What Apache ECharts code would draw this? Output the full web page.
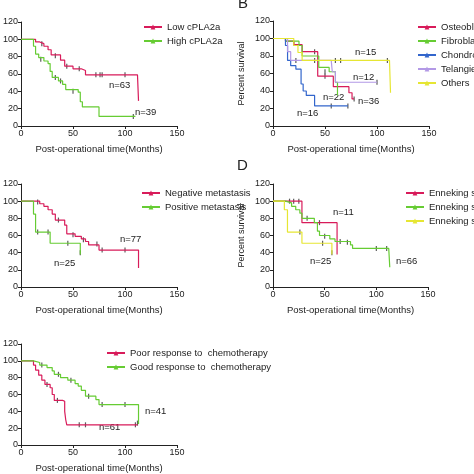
<!DOCTYPE html>
<html><head><meta charset="utf-8">
<script src="https://cdn.jsdelivr.net/npm/echarts@6/dist/echarts.min.js"></script>
<style>html,body{margin:0;background:#fff}#c{width:474px;height:474px}</style>
</head><body><div id="c"></div>
<script>
// survival curves: [time, percent] at each drop; censored marks separately
const aLow = [[0,100],[10,100],[14,97],[18,95],[22,92],[26,88],[29,82],[38,76],[42,69],[50,66],[58,64],[62,59],[112,59],[113,29]];
const aLowCens = [[20,95],[33,81],[44,69],[56,66],[72,59],[76,59],[78,59],[100,59]];
const aHigh = [[0,100],[10,100],[12,92],[14,83],[17,79],[22,75],[26,72],[28,63],[30,56],[36,52],[40,48],[43,42],[55,39],[57,28],[59,22],[75,11],[110,11]];
const aHighCens = [[19,77],[33,56],[38,52],[50,40],[108,11]];

const bOst = [[0,100],[12,97],[20,93],[28,85],[43,57],[58,45],[73,38],[76,31],[78,31]];
const bOstCens = [[40,85],[50,57],[78,31]];
const bFib = [[0,100],[12,97],[25,92],[28,80],[44,67],[54,62],[60,50],[62,35]];
const bFibCens = [[20,95],[50,62]];
const bCho = [[0,100],[12,92],[14,75],[17,69],[22,65],[27,48],[29,40],[32,35],[40,23],[72,23]];
const bChoCens = [[56,23],[72,23]];
const bTel = [[0,100],[14,85],[17,75],[56,75],[57,62],[60,50],[100,50]];
const bTelCens = [[22,75],[100,50]];
const bOth = [[0,100],[10,100],[20,92],[24,84],[28,75],[112,75],[113,38]];
const bOthCens = [[40,75],[60,75],[65,75],[110,75]];

const cNeg = [[0,100],[12,100],[18,97],[22,94],[26,90],[30,85],[33,78],[42,72],[44,62],[52,59],[58,56],[62,53],[65,49],[75,43],[113,43],[113,22]];
const cNegCens = [[16,99],[36,78],[50,61],[60,55],[73,50],[78,43],[100,43]];
const cPos = [[0,100],[10,100],[12,85],[14,64],[28,51],[57,38]];
const cPosCens = [[16,64],[26,64],[45,51],[57,40]];

const dI = [[0,100],[28,75],[62,38]];
const dICens = [[20,100],[25,100],[45,75]];
const dII = [[0,100],[12,98],[18,94],[22,90],[26,86],[28,80],[40,75],[43,65],[45,60],[55,56],[60,53],[75,49],[77,45],[112,45],[113,23]];
const dIICens = [[16,100],[33,80],[50,59],[65,53],[72,52],[100,45],[110,45]];
const dIII = [[0,100],[11,90],[14,64],[28,51],[57,38]];
const dIIICens = [[26,64],[48,51],[57,40]];

const ePoor = [[0,100],[12,95],[14,89],[17,83],[20,77],[23,72],[28,68],[30,60],[32,53],[40,52],[42,40],[43,30],[44,24],[112,24]];
const ePoorCens = [[25,72],[35,53],[56,24],[62,24],[110,24]];
const eGood = [[0,100],[12,98],[18,95],[25,92],[30,88],[32,84],[38,80],[45,77],[52,73],[55,70],[58,65],[62,58],[72,54],[75,48],[113,48],[113,25]];
const eGoodCens = [[20,95],[36,84],[48,77],[65,58],[78,48],[100,48],[112,26]];

const xTicks = [0, 50, 100, 150];
const yTicks = [0, 20, 40, 60, 80, 100, 120];

const RED = '#d81b5a', GREEN = '#66cc33', BLUE = '#3366cc', PURPLE = '#b399e6', YELLOW = '#e6e633';
const F = 'Liberation Sans, Arial, sans-serif';

const grids = [
  {left: 21, right: 297, top: 22, bottom: 348},
  {left: 273, right: 45, top: 21, bottom: 348},
  {left: 21, right: 297, top: 184, bottom: 187},
  {left: 273, right: 46, top: 184, bottom: 187},
  {left: 21, right: 297, top: 344, bottom: 26}
];
const withY = [false, true, false, true, false];

const xAxis = grids.map((g, i) => ({
  gridIndex: i, type: 'value', min: 0, max: 150, interval: 50,
  name: 'Post-operational time(Months)', nameLocation: 'middle', nameGap: 18,
  nameTextStyle: {fontSize: 9.5, color: '#222', fontFamily: F},
  axisLine: {lineStyle: {color: '#222'}}, axisTick: {length: 3, lineStyle: {color: '#222'}},
  axisLabel: {fontSize: 9, color: '#222', margin: 3, fontFamily: F}, splitLine: {show: false}
}));
const yAxis = grids.map((g, i) => ({
  gridIndex: i, type: 'value', min: 0, max: 120, interval: 20,
  name: withY[i] ? 'Percent survival' : '', nameLocation: 'middle', nameGap: 27,
  nameTextStyle: {fontSize: 9, color: '#222', fontFamily: F},
  axisLine: {show: true, lineStyle: {color: '#222'}}, axisTick: {show: true, length: 3, lineStyle: {color: '#222'}},
  axisLabel: {fontSize: 9, color: '#222', margin: 3, fontFamily: F}, splitLine: {show: false}
}));

const series = [];
function km(name, data, cens, color, gi) {
  series.push({name, type: 'line', step: 'end', data, xAxisIndex: gi, yAxisIndex: gi,
    symbol: 'triangle', symbolSize: 4, showSymbol: false, lineStyle: {color, width: 1.2}, itemStyle: {color}});
  series.push({name, type: 'scatter', data: cens, xAxisIndex: gi, yAxisIndex: gi,
    symbol: 'rect', symbolSize: [1.2, 5], itemStyle: {color: '#333'}});
}
km('Low cPLA2a', aLow, aLowCens, RED, 0);
km('High cPLA2a', aHigh, aHighCens, GREEN, 0);
km('Osteoblastic', bOst, bOstCens, RED, 1);
km('Fibroblastic', bFib, bFibCens, GREEN, 1);
km('Chondroblastic', bCho, bChoCens, BLUE, 1);
km('Telangiectatic', bTel, bTelCens, PURPLE, 1);
km('Others', bOth, bOthCens, YELLOW, 1);
km('Negative metastasis', cNeg, cNegCens, RED, 2);
km('Positive metastasis', cPos, cPosCens, GREEN, 2);
km('Enneking stage I', dI, dICens, RED, 3);
km('Enneking stage II', dII, dIICens, GREEN, 3);
km('Enneking stage III', dIII, dIIICens, YELLOW, 3);
km('Poor response to  chemotherapy', ePoor, ePoorCens, RED, 4);
km('Good response to  chemotherapy', eGood, eGoodCens, GREEN, 4);

function legend(names, left, top) {
  return {data: names, left, top, orient: 'vertical', itemGap: 4, itemWidth: 18, itemHeight: 6,
    textStyle: {fontSize: 9.5, color: '#222', fontFamily: F}, selectedMode: false};
}

function txt(x, y, t, size) {
  return {type: 'text', left: x, top: y, style: {text: t, fontSize: size || 9.5, fill: '#222', fontFamily: F}};
}

const chart = echarts.init(document.getElementById('c'));
chart.setOption({
  animation: false,
  grid: grids,
  xAxis, yAxis, series,
  legend: [
    legend(['Low cPLA2a', 'High cPLA2a'], 138, 17),
    legend(['Osteoblastic', 'Fibroblastic', 'Chondroblastic', 'Telangiectatic', 'Others'], 412, 17),
    legend(['Negative metastasis', 'Positive metastasis'], 136, 183),
    legend(['Enneking stage I', 'Enneking stage II', 'Enneking stage III'], 400, 183),
    legend(['Poor response to  chemotherapy', 'Good response to  chemotherapy'], 101, 343)
  ],
  graphic: [
    txt(238, -4, 'B', 15), txt(237, 158, 'D', 15),
    txt(109, 80, 'n=63'), txt(135, 107, 'n=39'),
    txt(355, 47, 'n=15'), txt(353, 72, 'n=12'), txt(323, 92, 'n=22'), txt(358, 96, 'n=36'), txt(297, 108, 'n=16'),
    txt(120, 234, 'n=77'), txt(54, 258, 'n=25'),
    txt(333, 207, 'n=11'), txt(310, 256, 'n=25'), txt(396, 256, 'n=66'),
    txt(145, 406, 'n=41'), txt(99, 422, 'n=61')
  ]
});
</script></body></html>
